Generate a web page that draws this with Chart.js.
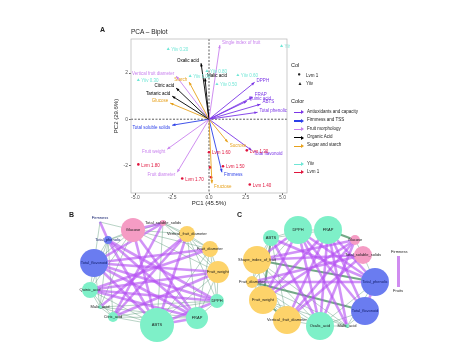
<!DOCTYPE html>
<html>
<head>
<meta charset="utf-8">
<script src="https://cdn.jsdelivr.net/npm/chart.js@4.4.0/dist/chart.umd.min.js"></script>
<style>
body { margin: 0; background: #fff; font-family: 'Liberation Sans', Arial, sans-serif; }
#wrap { position: relative; width: 474px; height: 348px; overflow: hidden; }
canvas { position: absolute; }
.t { position: absolute; white-space: nowrap; color: #222; line-height: 1; }
.sym { position: absolute; }
</style>
</head>
<body>
<div id="wrap">
  <canvas id="biplot" width="205" height="190" style="left:85px;top:25px;width:205px;height:190px"></canvas>
  <canvas id="netB" width="175" height="135" style="left:60px;top:210px;width:175px;height:135px"></canvas>
  <canvas id="netC" width="239" height="135" style="left:235px;top:210px;width:239px;height:135px"></canvas>

  <div class="t" style="left:100px;top:26px;font-size:7px;font-weight:bold">A</div>
  <div class="t" style="left:131px;top:29px;font-size:6.5px">PCA – Biplot</div>
  <div class="t" style="left:69px;top:211px;font-size:7px;font-weight:bold">B</div>
  <div class="t" style="left:237px;top:211px;font-size:7px;font-weight:bold">C</div>
  <div id="legend"></div>
</div>
<script>
// ---- PCA loadings (arrows) ----
const varNames = ['Single index of fruit', 'Oxalic acid', 'Malic acid', 'Starch', 'Vertical fruit diameter',
    'Citric acid', 'Tartaric acid', 'Glucose', 'Total soluble solids', 'Fruit weight', 'Fruit diameter',
    'Fructose', 'Firmness', 'Sucrose', 'Total flavonoid', 'Total phenolic', 'ABTS', 'FRAP', 'Quinic acid', 'DPPH'];
const loadX = [0.74, -0.54, -0.27, -1.35, -2.23, -2.23, -2.50, -2.64, -2.50, -2.84, -2.16, 0.20, 0.88, 1.28, 2.90, 3.30, 3.50, 2.97, 2.57, 3.10];
const loadY = [3.22, 2.43, 1.78, 1.61, 1.87, 1.35, 1.00, 0.70, -0.26, -1.30, -2.30, -2.78, -2.30, -1.00, -1.35, 0.30, 0.65, 0.96, 0.78, 1.60];
const varGroup = [2, 3, 3, 4, 2, 3, 3, 4, 1, 2, 2, 4, 1, 4, 0, 0, 0, 0, 0, 0];

// ---- PCA scores ----
const yiivLabels = ['Yiiv 0.20', 'Yiiv 0.30', 'Yiiv 1.00', 'Yiiv 0.80', 'Yiiv 0.50', 'Yiiv 0.60', 'Yiiv 1.20'];
const yiivX = [-2.77, -4.80, -1.28, -0.14, 0.54, 1.96, 4.93];
const yiivY = [3.04, 1.70, 1.87, 2.09, 1.52, 1.91, 3.17];
const lvmLabels = ['Lvm 1.80', 'Lvm 1.70', 'Lvm 1.60', 'Lvm 1.50', 'Lvm 1.40', 'Lvm 1.30', '', ''];
const lvmX = [-4.80, -1.82, 0.00, 0.95, 2.77, 2.57, 0.07, 0.14];
const lvmY = [-1.96, -2.57, -1.43, -2.04, -2.83, -1.35, -2.09, -2.52];

const xTicks = [-5, -2.5, 0, 2.5, 5];
const yTicks = [-2, 0, 2];

const groupNames = ['Antioxidants and capacity', 'Firmness and TSS', 'Fruit morphology', 'Organic Acid', 'Sugar and starch'];
const groupColors = ['#7b35e6', '#2b3fe8', '#c982ee', '#000000', '#e7a11c'];
const yiivColor = '#6fe6d6';
const lvmColor = '#e0143c';

// ---- network B ----
const bNodes = ['Firmness', 'Total_phenolic', 'Glucose', 'Total_soluble_solids', 'Vertical_fruit_diameter', 'Fruit_diameter',
    'Fruit_weight', 'DPPH', 'FRAP', 'ABTS', 'Citric_acid', 'Malic_acid', 'Quinic_acid', 'Total_flavonoid'];
const bX = [40, 48, 73, 103, 127, 150, 158, 157, 137, 97, 53, 40, 30, 34];
const bY = [12, 30, 20, 13, 24, 39, 62, 91, 108, 115, 107, 97, 80, 53];
const bR = [0.5, 4, 12, 3, 8, 8, 11, 7, 11, 17, 5, 2, 8, 14];
const bType = ['f', 'f', 's', 's', 'm', 'm', 'm', 'a', 'a', 'a', 'a', 'a', 'a', 'f'];
const bStrong = [
    ['Firmness', 'Total_phenolic'], ['Total_phenolic', 'FRAP'], ['Total_phenolic', 'ABTS'], ['Glucose', 'Total_soluble_solids'],
    ['Glucose', 'FRAP'], ['Glucose', 'ABTS'], ['Total_soluble_solids', 'Citric_acid'], ['Total_soluble_solids', 'Total_flavonoid'],
    ['Vertical_fruit_diameter', 'Citric_acid'], ['Vertical_fruit_diameter', 'Malic_acid'], ['Fruit_diameter', 'Quinic_acid'],
    ['Fruit_diameter', 'Total_flavonoid'], ['Fruit_weight', 'Quinic_acid'], ['Fruit_weight', 'Total_flavonoid'],
    ['Fruit_weight', 'Citric_acid'], ['Total_flavonoid', 'FRAP'], ['Total_flavonoid', 'DPPH'], ['Total_flavonoid', 'ABTS'],
    ['Quinic_acid', 'DPPH'], ['Quinic_acid', 'FRAP'], ['Total_phenolic', 'DPPH'], ['Vertical_fruit_diameter', 'ABTS'],
    ['DPPH', 'ABTS'], ['FRAP', 'ABTS']
];
const bWeak = [
    ['Firmness', 'Glucose'], ['Firmness', 'Total_flavonoid'], ['Total_phenolic', 'Glucose'], ['Total_phenolic', 'Total_flavonoid'],
    ['Total_phenolic', 'Quinic_acid'], ['Glucose', 'Vertical_fruit_diameter'], ['Glucose', 'Fruit_diameter'], ['Glucose', 'Total_flavonoid'],
    ['Total_soluble_solids', 'Vertical_fruit_diameter'], ['Total_soluble_solids', 'Fruit_diameter'], ['Total_soluble_solids', 'Fruit_weight'],
    ['Vertical_fruit_diameter', 'Fruit_diameter'], ['Vertical_fruit_diameter', 'Fruit_weight'], ['Vertical_fruit_diameter', 'DPPH'],
    ['Fruit_diameter', 'Fruit_weight'], ['Fruit_diameter', 'DPPH'], ['Fruit_diameter', 'FRAP'], ['Fruit_weight', 'DPPH'],
    ['Fruit_weight', 'FRAP'], ['Fruit_weight', 'ABTS'], ['DPPH', 'FRAP'], ['DPPH', 'Citric_acid'], ['DPPH', 'Malic_acid'],
    ['FRAP', 'Citric_acid'], ['FRAP', 'Malic_acid'], ['ABTS', 'Citric_acid'], ['ABTS', 'Malic_acid'], ['ABTS', 'Quinic_acid'],
    ['Citric_acid', 'Malic_acid'], ['Citric_acid', 'Quinic_acid'], ['Malic_acid', 'Quinic_acid'], ['Quinic_acid', 'Total_flavonoid'],
    ['Malic_acid', 'Total_flavonoid'], ['Glucose', 'Quinic_acid'], ['Total_soluble_solids', 'Total_phenolic'], ['Glucose', 'Fruit_weight'],
    ['Total_phenolic', 'Malic_acid'], ['Glucose', 'Malic_acid'], ['Total_soluble_solids', 'ABTS'], ['Fruit_diameter', 'ABTS'],
    ['Vertical_fruit_diameter', 'FRAP'], ['Total_phenolic', 'Citric_acid']
];

// ---- network C ----
const cNodes = ['ABTS', 'DPPH', 'FRAP', 'Glucose', 'Total_soluble_solids', 'Total_phenolic', 'Total_flavonoid', 'Malic_acid',
    'Oxalic_acid', 'Vertical_fruit_diameter', 'Fruit_weight', 'Fruit_diameter', 'Shape_index_of_fruit'];
const cX = [36, 63, 93, 120, 128, 140, 130, 112, 85, 52, 28, 17, 22];
const cY = [28, 20, 20, 30, 45, 72, 101, 116, 116, 110, 90, 72, 50];
const cR = [8, 14, 14, 5, 9, 14, 14, 2, 14, 14, 14, 6, 14];
const cType = ['a', 'a', 'a', 's', 's', 'f', 'f', 'a', 'a', 'm', 'm', 'm', 'm'];
const cStrong = [
    ['DPPH', 'Total_phenolic'], ['DPPH', 'Total_flavonoid'], ['FRAP', 'Total_flavonoid'], ['FRAP', 'Total_phenolic'],
    ['ABTS', 'Total_phenolic'], ['ABTS', 'Oxalic_acid'], ['Shape_index_of_fruit', 'Glucose'], ['Shape_index_of_fruit', 'Total_soluble_solids'],
    ['Fruit_weight', 'Glucose'], ['Fruit_weight', 'FRAP'], ['Fruit_diameter', 'Total_soluble_solids'], ['Fruit_diameter', 'Total_phenolic'],
    ['Vertical_fruit_diameter', 'Glucose'], ['Vertical_fruit_diameter', 'FRAP'], ['Vertical_fruit_diameter', 'Total_soluble_solids'],
    ['Oxalic_acid', 'DPPH'], ['Oxalic_acid', 'FRAP'], ['Oxalic_acid', 'Glucose'], ['Malic_acid', 'DPPH'], ['Malic_acid', 'FRAP'],
    ['Total_flavonoid', 'Total_phenolic'], ['Shape_index_of_fruit', 'DPPH'], ['Fruit_weight', 'DPPH']
];
const cNegative = [
    ['Shape_index_of_fruit', 'Total_phenolic'], ['Fruit_diameter', 'Total_flavonoid'], ['FRAP', 'Glucose'],
    ['ABTS', 'Fruit_weight'], ['Vertical_fruit_diameter', 'Fruit_weight']
];
const cWeak = [
    ['ABTS', 'DPPH'], ['ABTS', 'Shape_index_of_fruit'], ['ABTS', 'Fruit_diameter'], ['DPPH', 'FRAP'], ['Glucose', 'Total_soluble_solids'],
    ['Total_soluble_solids', 'Total_phenolic'], ['Total_phenolic', 'Malic_acid'], ['Total_flavonoid', 'Malic_acid'], ['Malic_acid', 'Oxalic_acid'],
    ['Oxalic_acid', 'Vertical_fruit_diameter'], ['Vertical_fruit_diameter', 'Fruit_diameter'], ['Fruit_weight', 'Fruit_diameter'],
    ['Fruit_diameter', 'Shape_index_of_fruit'], ['Shape_index_of_fruit', 'Fruit_weight'], ['Shape_index_of_fruit', 'Vertical_fruit_diameter'],
    ['Fruit_diameter', 'Oxalic_acid'], ['Fruit_weight', 'Oxalic_acid'], ['Fruit_weight', 'Malic_acid'], ['ABTS', 'Vertical_fruit_diameter'],
    ['Shape_index_of_fruit', 'Oxalic_acid'], ['DPPH', 'Fruit_diameter'], ['Fruit_diameter', 'Malic_acid'], ['Shape_index_of_fruit', 'Malic_acid'],
    ['Oxalic_acid', 'Total_flavonoid'], ['Oxalic_acid', 'Total_phenolic'], ['ABTS', 'FRAP']
];

const nodeColors = { a: '#7ef0c8', f: '#6a7cf0', s: '#f59cc4', m: '#fdd36a' };
const FONT = "'Liberation Sans', Arial, sans-serif";

// ========== A: biplot ==========
const arrowSets = varNames.map((name, i) => ({
    label: name,
    data: [{ x: 0, y: 0 }, { x: loadX[i], y: loadY[i] }],
    showLine: true,
    borderColor: groupColors[varGroup[i]],
    borderWidth: 0.9,
    pointRadius: 0,
    clip: false,
    isArrow: true
}));

const biplotDecor = {
    id: 'biplotDecor',
    beforeDatasetsDraw(chart) {
        const { ctx, chartArea: a, scales: { x, y } } = chart;
        ctx.save();
        ctx.strokeStyle = '#333';
        ctx.lineWidth = 0.8;
        ctx.setLineDash([2, 1.5]);
        const x0 = x.getPixelForValue(0), y0 = y.getPixelForValue(0);
        ctx.beginPath();
        ctx.moveTo(x0, a.top); ctx.lineTo(x0, a.bottom);
        ctx.moveTo(a.left, y0); ctx.lineTo(a.right, y0);
        ctx.stroke();
        ctx.restore();
    },
    afterDatasetsDraw(chart) {
        const { ctx, scales: { x, y } } = chart;
        ctx.save();
        ctx.font = '4.5px ' + FONT;
        ctx.textBaseline = 'middle';
        chart.data.datasets.forEach(ds => {
            if (ds.isArrow) {
                const x0 = x.getPixelForValue(0), y0 = y.getPixelForValue(0);
                const x1 = x.getPixelForValue(ds.data[1].x), y1 = y.getPixelForValue(ds.data[1].y);
                const ang = Math.atan2(y1 - y0, x1 - x0);
                ctx.fillStyle = ds.borderColor;
                ctx.beginPath();
                ctx.moveTo(x1, y1);
                ctx.lineTo(x1 - 3.5 * Math.cos(ang - 0.4), y1 - 3.5 * Math.sin(ang - 0.4));
                ctx.lineTo(x1 - 3.5 * Math.cos(ang + 0.4), y1 - 3.5 * Math.sin(ang + 0.4));
                ctx.closePath();
                ctx.fill();
                const left = ds.data[1].x < -0.4;
                ctx.textAlign = left ? 'right' : 'left';
                ctx.fillText(ds.label, x1 + (left ? -2 : 2), y1 + (ds.data[1].y < 0 ? 3 : -2));
            } else if (ds.pointLabels) {
                ctx.fillStyle = ds.borderColor;
                ctx.textAlign = 'left';
                ds.data.forEach((p, i) => {
                    if (!ds.pointLabels[i]) return;
                    ctx.fillText(ds.pointLabels[i], x.getPixelForValue(p.x) + 3, y.getPixelForValue(p.y) + 1);
                });
            }
        });
        ctx.restore();
    },
    afterDraw(chart) {
        const { ctx, chartArea: a } = chart;
        ctx.save();
        ctx.strokeStyle = '#b5b5b5';
        ctx.lineWidth = 0.7;
        ctx.strokeRect(a.left, a.top, a.right - a.left, a.bottom - a.top);
        ctx.restore();
    }
};

new Chart(document.getElementById('biplot'), {
    type: 'scatter',
    data: {
        datasets: [
            ...arrowSets,
            {
                label: 'Yiiv',
                data: yiivX.map((v, i) => ({ x: v, y: yiivY[i] })),
                pointLabels: yiivLabels,
                pointStyle: 'triangle',
                pointRadius: 1.8,
                backgroundColor: yiivColor,
                borderColor: yiivColor,
                borderWidth: 0,
                clip: false
            },
            {
                label: 'Lvm 1',
                data: lvmX.map((v, i) => ({ x: v, y: lvmY[i] })),
                pointLabels: lvmLabels,
                pointStyle: 'circle',
                pointRadius: 1.3,
                backgroundColor: lvmColor,
                borderColor: lvmColor,
                borderWidth: 0,
                clip: false
            }
        ]
    },
    options: {
        responsive: false,
        animation: false,
        events: [],
        layout: { autoPadding: false, padding: { left: 28, top: 14, right: 3, bottom: 0 } },
        plugins: { legend: { display: false }, tooltip: { enabled: false } },
        scales: {
            x: {
                min: -5.3, max: 5.3,
                afterBuildTicks: s => { s.ticks = xTicks.map(v => ({ value: v })); },
                afterFit: s => { s.height = 22; },
                ticks: { font: { size: 5, family: FONT }, color: '#555', padding: 0, maxRotation: 0, callback: v => v.toFixed(1) },
                grid: { drawOnChartArea: false, tickLength: 2, color: '#666' },
                border: { display: false },
                title: { display: true, text: 'PC1 (45.5%)', font: { size: 6, family: FONT }, color: '#222', padding: { top: 0, bottom: 8 } }
            },
            y: {
                min: -3.2, max: 3.48,
                afterBuildTicks: s => { s.ticks = yTicks.map(v => ({ value: v })); },
                afterFit: s => { s.width = 18; },
                ticks: { font: { size: 5, family: FONT }, color: '#555', padding: 1 },
                grid: { drawOnChartArea: false, tickLength: 2, color: '#666' },
                border: { display: false },
                title: { display: true, text: 'PC2 (29.6%)', font: { size: 6, family: FONT }, color: '#222', padding: { top: 0, bottom: 0 } }
            }
        }
    },
    plugins: [biplotDecor]
});

// legend for A (html)
(function () {
    const lg = document.getElementById('legend');
    let html = '';
    html += '<div class="t" style="left:291px;top:63px;font-size:5.5px">Col</div>';
    html += '<div class="t" style="left:297.5px;top:72px;font-size:5.5px">&#9679;</div><div class="t" style="left:306px;top:73.5px;font-size:4.5px">Lvm 1</div>';
    html += '<div class="t" style="left:297.5px;top:80.5px;font-size:5px">&#9650;</div><div class="t" style="left:306px;top:82px;font-size:4.5px">Yiiv</div>';
    html += '<div class="t" style="left:291px;top:99px;font-size:5.5px">Color</div>';
    const arrowSym = (top, col) =>
        `<div class="sym" style="left:294px;top:${top}px;width:8px;height:1.2px;background:${col}"></div>` +
        `<div class="sym" style="left:301px;top:${top - 1.6}px;width:0;height:0;border-top:2.2px solid transparent;border-bottom:2.2px solid transparent;border-left:3.5px solid ${col}"></div>`;
    groupNames.forEach((g, i) => {
        const top = 112 + i * 8.4;
        html += arrowSym(top, groupColors[i]);
        html += `<div class="t" style="left:307px;top:${top - 2.3}px;font-size:4.5px">${g}</div>`;
    });
    html += arrowSym(164, yiivColor) + '<div class="t" style="left:307px;top:161.7px;font-size:4.5px">Yiiv</div>';
    html += arrowSym(172, lvmColor) + '<div class="t" style="left:307px;top:169.7px;font-size:4.5px">Lvm 1</div>';
    // C edge legend
    html += '<div class="t" style="left:391px;top:250px;font-size:4px">Firmness</div>';
    html += '<div class="sym" style="left:397px;top:256px;width:2.5px;height:31px;background:#d08cf0"></div>';
    html += '<div class="t" style="left:393px;top:289px;font-size:4px">Fruits</div>';
    lg.innerHTML = html;
})();

// ========== B / C: networks ==========
function edgeSets(pairs, names, xs, ys, color, width, order) {
    return pairs.map(([a, b]) => {
        const i = names.indexOf(a), j = names.indexOf(b);
        return {
            data: [{ x: xs[i], y: ys[i] }, { x: xs[j], y: ys[j] }],
            showLine: true,
            borderColor: color,
            borderWidth: width,
            pointRadius: 0,
            clip: false,
            order: order
        };
    });
}

const nodeLabels = {
    id: 'nodeLabels',
    afterDatasetsDraw(chart) {
        const ds = chart.data.datasets.find(d => d.nodeNames);
        const { ctx, scales: { x, y } } = chart;
        ctx.save();
        ctx.font = '4px ' + FONT;
        ctx.textAlign = 'center';
        ctx.textBaseline = 'middle';
        ds.data.forEach((p, i) => {
            ctx.fillStyle = ds.nodeTypes[i] === 'f' ? '#14206e' : '#1a1a1a';
            const dy = ds.nodeNames[i] === 'Firmness' ? -4 : 0;
            ctx.fillText(ds.nodeNames[i], x.getPixelForValue(p.x), y.getPixelForValue(p.y) + dy);
        });
        ctx.restore();
    }
};

function makeNetwork(id, w, h, names, xs, ys, rs, types, strong, weak, negative) {
    const datasets = [
        ...edgeSets(weak, names, xs, ys, 'rgba(85,150,115,0.7)', 0.6, 4),
        ...edgeSets(negative, names, xs, ys, 'rgba(70,140,95,0.75)', 2, 3),
        ...edgeSets(strong, names, xs, ys, 'rgba(180,80,242,0.62)', 2.6, 2),
        {
            type: 'bubble',
            data: xs.map((v, i) => ({ x: v, y: ys[i], r: rs[i] })),
            nodeNames: names,
            nodeTypes: types,
            backgroundColor: types.map(t => nodeColors[t]),
            borderColor: types.map(t => nodeColors[t]),
            borderWidth: 0,
            clip: false,
            order: 0
        }
    ];
    new Chart(document.getElementById(id), {
        type: 'scatter',
        data: { datasets },
        options: {
            responsive: false,
            animation: false,
            events: [],
            layout: { autoPadding: false, padding: 0 },
            plugins: { legend: { display: false }, tooltip: { enabled: false } },
            scales: {
                x: { display: false, min: 0, max: w },
                y: { display: false, min: 0, max: h, reverse: true }
            }
        },
        plugins: [nodeLabels]
    });
}

makeNetwork('netB', 175, 135, bNodes, bX, bY, bR, bType, bStrong, bWeak, []);
makeNetwork('netC', 239, 135, cNodes, cX, cY, cR, cType, cStrong, cWeak, cNegative);
</script>
</body>
</html>
